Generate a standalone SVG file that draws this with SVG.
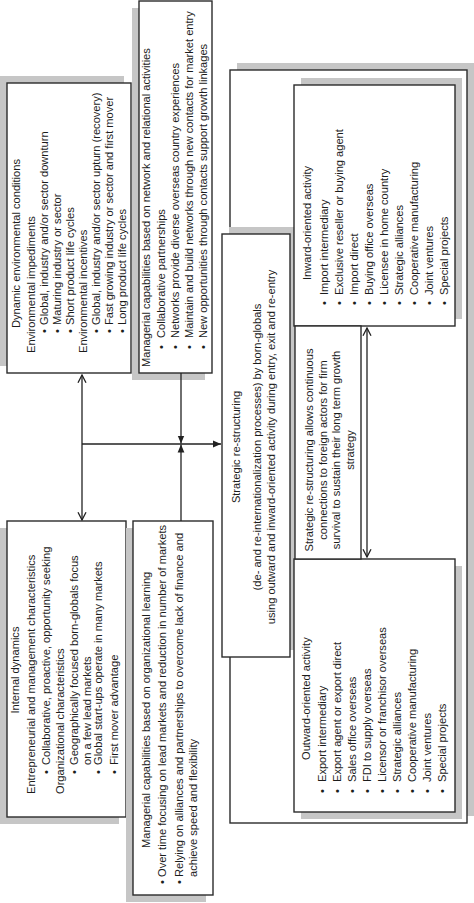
<svg xmlns="http://www.w3.org/2000/svg" width="474" height="903" viewBox="0 0 474 903">
<style>
.box{fill:#fff;stroke:#2b2b2b;stroke-width:1.4}
.sh{fill:#c6c6c6;stroke:none}
text{font-family:"Liberation Sans",Arial,sans-serif;font-size:11.1px;fill:#1c1c1c}
.c{text-anchor:middle}
.ln{fill:none;stroke:#222;stroke-width:1.3}
</style>
<defs>
<marker id="fa" viewBox="0 0 8 8" refX="8" refY="4" markerWidth="8" markerHeight="8" orient="auto-start-reverse" markerUnits="userSpaceOnUse"><path d="M0,0.6 L8,4 L0,7.4 z" fill="#222"/></marker>
<marker id="oa" viewBox="0 0 10 10" refX="9.3" refY="5" markerWidth="10" markerHeight="10" orient="auto-start-reverse" markerUnits="userSpaceOnUse"><path d="M1.5,1 L9.3,5 L1.5,9" fill="none" stroke="#222" stroke-width="1.3"/></marker>
</defs>

<g id="outer">
<rect class="sh" x="237" y="63" width="237" height="753"/>
<rect class="box" x="230" y="70" width="237" height="753"/>
</g>

<g id="dynamic">
<rect class="sh" x="0" y="76" width="124" height="290"/>
<rect class="box" x="7" y="83" width="124" height="290"/>
<g transform="matrix(0 -1 1 0 0 903)">
<text x="575" y="20">Dynamic environmental conditions</text>
<text x="550" y="35">Environmental impediments</text>
<text x="570" y="48">•</text><text x="578" y="48">Global, industry and/or sector downturn</text>
<text x="570" y="61">•</text><text x="578" y="61">Maturing industry or sector</text>
<text x="570" y="74">•</text><text x="578" y="74">Short product life cycles</text>
<text x="550" y="87">Environmental incentives</text>
<text x="570" y="100">•</text><text x="578" y="100">Global, industry and/or sector upturn (recovery)</text>
<text x="570" y="113">•</text><text x="578" y="113">Fast growing industry or sector and first mover</text>
<text x="570" y="126">•</text><text x="578" y="126">Long product life cycles</text>
</g>
</g>

<g id="network">
<rect class="sh" x="132" y="8" width="73" height="372"/>
<rect class="box" x="139" y="1" width="73" height="372"/>
<g transform="matrix(0 -1 1 0 0 903)">
<text x="536" y="150">Managerial capabilities based on network and relational activities</text>
<text x="554" y="165">•</text><text x="565" y="165">Collaborative partnerships</text>
<text x="554" y="179">•</text><text x="565" y="179">Networks provide diverse overseas country experiences</text>
<text x="554" y="193">•</text><text x="565" y="193">Maintain and build networks through new contacts for market entry</text>
<text x="554" y="207">•</text><text x="565" y="207">New opportunities through contacts support growth linkages</text>
</g>
</g>

<g id="internal">
<rect class="sh" x="0" y="528" width="119" height="296"/>
<rect class="box" x="7" y="521" width="119" height="296"/>
<g transform="matrix(0 -1 1 0 0 903)">
<text class="c" x="233" y="19">Internal dynamics</text>
<text x="109" y="35">Entrepreneurial and management characteristics</text>
<text x="129" y="50">•</text><text x="138" y="50">Collaborative, proactive, opportunity seeking</text>
<text x="109" y="63.5">Organizational characteristics</text>
<text x="129" y="78">•</text><text x="138" y="78">Geographically focused born-globals focus</text>
<text x="138" y="91">on a few lead markets</text>
<text x="129" y="102">•</text><text x="138" y="102">Global start-ups operate in many markets</text>
<text x="129" y="118">•</text><text x="138" y="118">First mover advantage</text>
</g>
</g>

<g id="learning">
<rect class="sh" x="126" y="528" width="80" height="374"/>
<rect class="box" x="133" y="521" width="80" height="374"/>
<g transform="matrix(0 -1 1 0 0 903)">
<text x="55" y="150">Managerial capabilities based on organizational learning</text>
<text x="19" y="166">•</text><text x="26" y="166">Over time focusing on lead markets and reduction in number of markets</text>
<text x="19" y="183">•</text><text x="26" y="183">Relying on alliances and partnerships to overcome lack of finance and</text>
<text x="26" y="197">achieve speed and flexibility</text>
</g>
</g>

<g id="restructuring">
<rect class="sh" x="229" y="227" width="68" height="423"/>
<rect class="box" x="222" y="234" width="68" height="423"/>
<g transform="matrix(0 -1 1 0 0 903)">
<text class="c" x="456" y="240">Strategic re-structuring</text>
<text class="c" x="456" y="261">(de- and re-internationalization processes) by born-globals</text>
<text class="c" x="456" y="275">using outward and inward-oriented activity during entry, exit and re-entry</text>
</g>
</g>

<g id="inward">
<rect class="sh" x="301" y="78" width="161" height="241"/>
<rect class="box" x="294" y="85" width="161" height="241"/>
<g transform="matrix(0 -1 1 0 0 903)">
<text x="623" y="311">Inward-oriented activity</text>
<text x="598" y="327.5">•</text><text x="608" y="327.5">Import intermediary</text>
<text x="598" y="342.5">•</text><text x="608" y="342.5">Exclusive reseller or buying agent</text>
<text x="598" y="357.5">•</text><text x="608" y="357.5">Import direct</text>
<text x="598" y="372.5">•</text><text x="608" y="372.5">Buying office overseas</text>
<text x="598" y="387.5">•</text><text x="608" y="387.5">Licensee in home country</text>
<text x="598" y="402.5">•</text><text x="608" y="402.5">Strategic alliances</text>
<text x="598" y="417.5">•</text><text x="608" y="417.5">Cooperative manufacturing</text>
<text x="598" y="432.5">•</text><text x="608" y="432.5">Joint ventures</text>
<text x="598" y="447.5">•</text><text x="608" y="447.5">Special projects</text>
</g>
</g>

<g id="outward">
<rect class="sh" x="301" y="566" width="161" height="253"/>
<rect class="box" x="294" y="559" width="161" height="253"/>
<g transform="matrix(0 -1 1 0 0 903)">
<text x="143" y="310">Outward-oriented activity</text>
<text x="110" y="325.5">•</text><text x="121" y="325.5">Export intermediary</text>
<text x="110" y="340.5">•</text><text x="121" y="340.5">Export agent or export direct</text>
<text x="110" y="355.5">•</text><text x="121" y="355.5">Sales office overseas</text>
<text x="110" y="370.5">•</text><text x="121" y="370.5">FDI to supply overseas</text>
<text x="110" y="385.5">•</text><text x="121" y="385.5">Licensor or franchisor overseas</text>
<text x="110" y="400.5">•</text><text x="121" y="400.5">Strategic alliances</text>
<text x="110" y="415.5">•</text><text x="121" y="415.5">Cooperative manufacturing</text>
<text x="110" y="430.5">•</text><text x="121" y="430.5">Joint ventures</text>
<text x="110" y="445.5">•</text><text x="121" y="445.5">Special projects</text>
</g>
</g>

<g id="connection">
<rect class="box" x="295" y="326" width="66" height="233"/>
<g transform="matrix(0 -1 1 0 0 903)">
<text class="c" x="453" y="313">Strategic re-structuring allows continuous</text>
<text class="c" x="453" y="326.5">connections to foreign actors for firm</text>
<text class="c" x="453" y="340">survival to sustain their long term growth</text>
<text class="c" x="453" y="353.5">strategy</text>
</g>
</g>

<g id="connectors">
<line class="ln" x1="82" y1="375" x2="82" y2="520" marker-start="url(#oa)" marker-end="url(#oa)"/>
<line class="ln" x1="82" y1="444" x2="221" y2="444" marker-end="url(#fa)"/>
<line class="ln" x1="181" y1="373" x2="181" y2="443.5" marker-end="url(#fa)"/>
<line class="ln" x1="181" y1="521" x2="181" y2="444.5" marker-end="url(#fa)"/>
<line class="ln" x1="367" y1="328" x2="367" y2="557" marker-start="url(#oa)" marker-end="url(#oa)"/>
</g>
</svg>
